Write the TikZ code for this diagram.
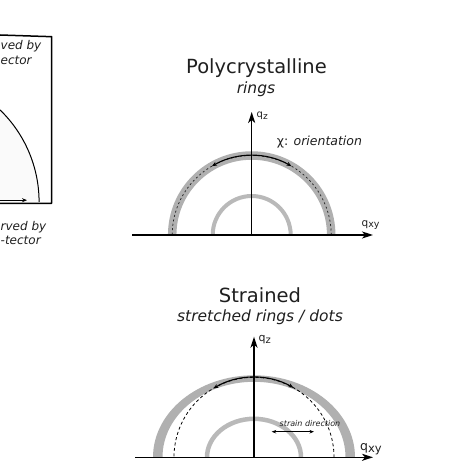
\documentclass[tikz,border=0pt]{standalone}
\usepackage{fontspec}
\setmainfont{DejaVu Sans}
\usetikzlibrary{arrows.meta}
\begin{document}
\begin{tikzpicture}[x=1pt,y=1pt,
  ax/.style={line width=1.3pt, -{Stealth[length=11pt,width=7pt,inset=3pt]}},
  band/.style={draw=gray!62, line width=8.5pt},
  ring/.style={draw=gray!55, line width=4pt},
  chi/.style={line width=1.1pt, {Stealth[length=5pt,width=4pt]}-{Stealth[length=5pt,width=4pt]}},
  lbl/.style={inner sep=0pt, text=black!88},
  boxline/.style={line width=1.5pt, line join=round},
  title/.style={lbl, anchor=base, font=\fontsize{19.5}{22}\selectfont},
  subtitle/.style={lbl, anchor=base, font=\fontsize{15.5}{18}\selectfont\itshape},
  side/.style={lbl, anchor=base west, font=\fontsize{12}{14}\selectfont\itshape},
]
\useasboundingbox (0,0) rectangle (474,474);
\clip (0,0) rectangle (474,474);

% ---------- left (cut) panel ----------
\coordinate (A) at (0,439);
\coordinate (B) at (51.7,437.3);
\coordinate (C) at (51.7,270.7);
\coordinate (D) at (0,270.7);
\fill[gray!4] (0,364) arc[start angle=46,end angle=0,radius=128] -- (0,272) -- cycle;
\draw[boxline] (A) -- (B) -- (C) -- (D);
\coordinate (arcS) at (0,364.1);
\draw[line width=1pt] (arcS) arc[start angle=46,end angle=0,radius=128];
\coordinate (la) at (0,273.8);
\coordinate (lb) at (27,273.8);
\draw[line width=0.9pt, -{Stealth[length=5pt,width=4pt]}] (la) -- (lb);
\node[side] (u1) at (0.5,424) {ved by};
\node[side] (u2) at (0.5,409) {ector};
\node[side] (d1) at (0.5,243.5) {rved by};
\node[side] (d2) at (0.5,229) {-tector};

% ---------- top panel: polycrystalline ----------
\node[title] (t1) at (256.5,400.7) {Polycrystalline};
\node[subtitle] (s1) at (256,380.7) {rings};
\begin{scope}[shift={(251.7,239)}]
  \draw[band] (79.5,0) arc[start angle=0,end angle=180,radius=79.5];
  \draw[gray!25!black, line width=0.7pt, dash pattern=on 2pt off 2.5pt] (79.5,0) arc[start angle=0,end angle=180,radius=79.5];
  \draw[ring] (39,0) arc[start angle=0,end angle=180,radius=39];
  \draw[chi] (120:79.5) arc[start angle=120,end angle=60,radius=79.5];
\end{scope}
\coordinate (o1) at (251.7,239);
\coordinate (z1) at (251.7,362);
\coordinate (xl1) at (132,239);
\coordinate (xr1) at (373,239);
\draw[ax] (xl1) -- (xr1);
\draw[ax] (o1) -- (z1);
\node[lbl, anchor=west, font=\fontsize{10}{12}\selectfont] (qz1) at (256.5,358) {q\raisebox{-1.3pt}{\fontsize{9}{10}\selectfont z}};
\node[lbl, anchor=west, font=\fontsize{10.5}{12}\selectfont] (qx1) at (361.5,249) {q\raisebox{-1.5pt}{\fontsize{9.5}{10}\selectfont xy}};
\node[lbl, anchor=base west, font=\fontsize{12.5}{14}\selectfont] (chi1) at (276.7,328) {χ: \itshape orientation};

% ---------- bottom panel: strained ----------
\node[title] (t2) at (260,171) {Strained};
\node[subtitle] (s2) at (260,152.3) {stretched rings / dots};
\begin{scope}[shift={(254,16.7)}]
  \fill[gray!62] (101,0) arc[start angle=0,end angle=180,x radius=101,y radius=82]
     -- (-91.5,0) arc[start angle=180,end angle=0,x radius=91.5,y radius=75.5] -- cycle;
  \draw[black, line width=0.8pt, dash pattern=on 3pt off 2.5pt] (80,0) arc[start angle=0,end angle=180,radius=80];
  \draw[ring, line width=4.5pt] (47,0) arc[start angle=0,end angle=180,x radius=47,y radius=38.5];
  \draw[chi] (120.5:80) arc[start angle=120.5,end angle=60.5,radius=80];
\end{scope}
\node[lbl, anchor=center, font=\fontsize{8}{9}\selectfont\itshape] (sd) at (310,50) {strain direction};
\coordinate (sa) at (271.7,42.3);
\coordinate (sb) at (314,42.3);
\draw[line width=0.9pt, {Stealth[length=4.5pt,width=3.5pt]}-{Stealth[length=4.5pt,width=3.5pt]}] (sa) -- (sb);
\coordinate (o2) at (254,16.7);
\coordinate (z2) at (254,137.3);
\coordinate (xl2) at (135,16.7);
\coordinate (xr2) at (373,16.7);
\draw[ax] (xl2) -- (xr2);
\draw[ax] (o2) -- (z2);
\node[lbl, anchor=west, font=\fontsize{11}{12}\selectfont] (qz2) at (258.5,134) {q\raisebox{-1.3pt}{\fontsize{10}{11}\selectfont z}};
\node[lbl, anchor=west, font=\fontsize{12.5}{14}\selectfont] (qx2) at (360,25) {q\raisebox{-1.8pt}{\fontsize{11.5}{12}\selectfont xy}};
\end{tikzpicture}
\end{document}
